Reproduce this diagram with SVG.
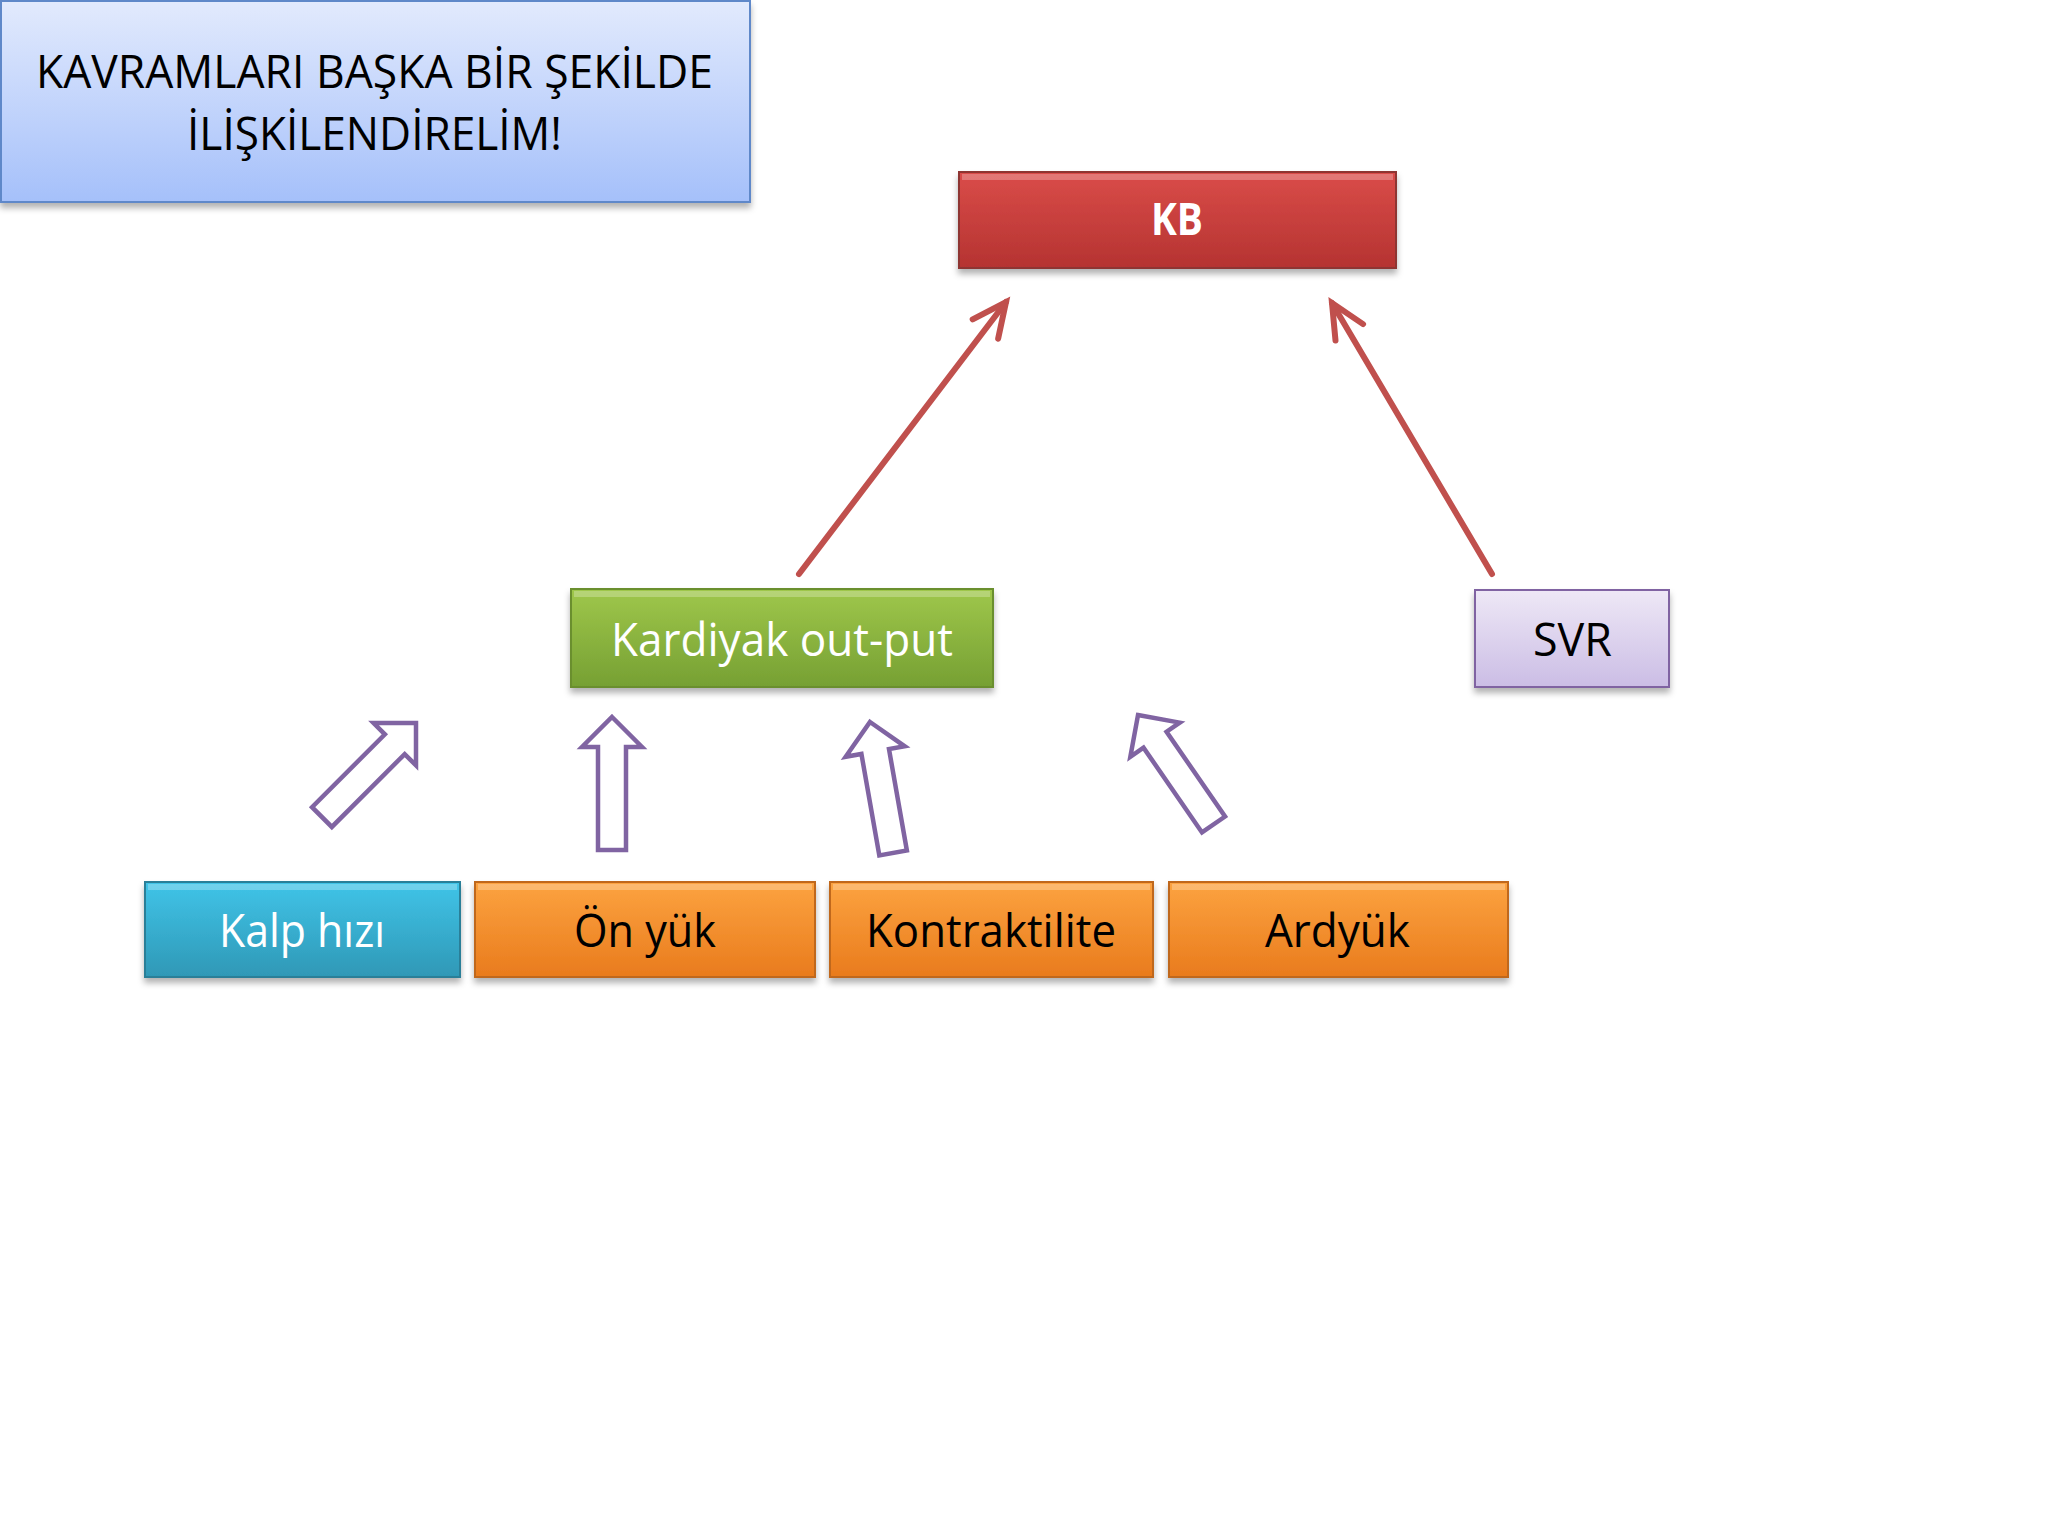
<svg xmlns="http://www.w3.org/2000/svg" width="2048" height="1536" viewBox="0 0 2048 1536">
<defs>
<linearGradient id="gTitle" x1="0" y1="0" x2="0" y2="1"><stop offset="0" stop-color="#e2eafd"/><stop offset="1" stop-color="#a5c0fa"/></linearGradient>
<linearGradient id="gRed" x1="0" y1="0" x2="0" y2="1"><stop offset="0" stop-color="#da4c49"/><stop offset="1" stop-color="#b53331"/></linearGradient>
<linearGradient id="gGreen" x1="0" y1="0" x2="0" y2="1"><stop offset="0" stop-color="#9fc74b"/><stop offset="1" stop-color="#76a033"/></linearGradient>
<linearGradient id="gLav" x1="0" y1="0" x2="0" y2="1"><stop offset="0" stop-color="#eee8f6"/><stop offset="1" stop-color="#cbbde5"/></linearGradient>
<linearGradient id="gCyan" x1="0" y1="0" x2="0" y2="1"><stop offset="0" stop-color="#40c4e8"/><stop offset="1" stop-color="#2f98b6"/></linearGradient>
<linearGradient id="gOrange" x1="0" y1="0" x2="0" y2="1"><stop offset="0" stop-color="#fca340"/><stop offset="1" stop-color="#e97b1d"/></linearGradient>
<filter id="shadow" x="-10%" y="-20%" width="120%" height="150%"><feDropShadow dx="0" dy="5" stdDeviation="3" flood-color="#000" flood-opacity="0.3"/></filter>
<marker id="redHead" viewBox="-45 -25 55 50" markerWidth="55" markerHeight="50" refX="0" refY="0" orient="auto" markerUnits="userSpaceOnUse" overflow="visible">
<path d="M-34,-16 L0,0 L-34,16" fill="none" stroke="#c0504d" stroke-width="6" stroke-linecap="round" stroke-linejoin="miter"/>
</marker>
<path id="blockArrow" d="M0,0 L30,30 L14,30 L14,133 L-14,133 L-14,30 L-30,30 Z"/>
</defs>
<style>
.box{stroke-width:2}
.hl{fill:#ffffff;opacity:0.25}
.t{font-family:"Open Sans","Noto Sans","Liberation Sans",sans-serif;font-size:45px}
.w{fill:#ffffff}
.k{fill:#000000}
.red{stroke:#c0504d;stroke-width:6;fill:none;stroke-linecap:round}
.open{fill:#ffffff;stroke:#8064a2;stroke-width:4.5;stroke-linejoin:miter}
</style>
<rect width="2048" height="1536" fill="#ffffff"/>

<g id="title">
<rect x="1" y="1" width="749" height="201" fill="url(#gTitle)" stroke="#5f88c9" stroke-width="2" filter="url(#shadow)"/>
<text class="t k" x="36" y="88" font-size="40" textLength="677" lengthAdjust="spacingAndGlyphs">KAVRAMLARI BAŞKA BİR ŞEKİLDE</text>
<text class="t k" x="187" y="150" font-size="40" textLength="375" lengthAdjust="spacingAndGlyphs">İLİŞKİLENDİRELİM!</text>
</g>

<g id="node-kb">
<rect class="box" x="959" y="172" width="437" height="96" fill="url(#gRed)" stroke="#8e3533" filter="url(#shadow)"/>
<rect class="hl" x="962" y="174" width="431" height="6"/>
<text class="t w" x="1151" y="235" font-weight="bold" textLength="52" lengthAdjust="spacingAndGlyphs">KB</text>
</g>

<g id="node-kardiyak">
<rect class="box" x="571" y="589" width="422" height="98" fill="url(#gGreen)" stroke="#6a8f2e" filter="url(#shadow)"/>
<rect class="hl" x="574" y="591" width="416" height="6"/>
<text class="t w" x="611" y="656" textLength="342" lengthAdjust="spacingAndGlyphs">Kardiyak out-put</text>
</g>

<g id="node-svr">
<rect class="box" x="1475" y="590" width="194" height="97" fill="url(#gLav)" stroke="#8064a2" filter="url(#shadow)"/>
<text class="t k" x="1533" y="656" textLength="79" lengthAdjust="spacingAndGlyphs">SVR</text>
</g>

<g id="node-kalp">
<rect class="box" x="145" y="882" width="315" height="95" fill="url(#gCyan)" stroke="#2a7f98" filter="url(#shadow)"/>
<rect class="hl" x="148" y="884" width="309" height="6"/>
<text class="t w" x="219" y="947" textLength="166" lengthAdjust="spacingAndGlyphs">Kalp hızı</text>
</g>

<g id="node-onyuk">
<rect class="box" x="475" y="882" width="340" height="95" fill="url(#gOrange)" stroke="#c0671a" filter="url(#shadow)"/>
<rect class="hl" x="478" y="884" width="334" height="6"/>
<text class="t k" x="574" y="947" textLength="142" lengthAdjust="spacingAndGlyphs">Ön yük</text>
</g>

<g id="node-kontraktilite">
<rect class="box" x="830" y="882" width="323" height="95" fill="url(#gOrange)" stroke="#c0671a" filter="url(#shadow)"/>
<rect class="hl" x="833" y="884" width="317" height="6"/>
<text class="t k" x="866" y="947" textLength="250" lengthAdjust="spacingAndGlyphs">Kontraktilite</text>
</g>

<g id="node-ardyuk">
<rect class="box" x="1169" y="882" width="339" height="95" fill="url(#gOrange)" stroke="#c0671a" filter="url(#shadow)"/>
<rect class="hl" x="1172" y="884" width="333" height="6"/>
<text class="t k" x="1265" y="947" textLength="145" lengthAdjust="spacingAndGlyphs">Ardyük</text>
</g>

<g id="connectors">
<line class="red" x1="799" y1="574" x2="1006" y2="302" marker-end="url(#redHead)"/>
<line class="red" x1="1492" y1="574" x2="1332" y2="303" marker-end="url(#redHead)"/>
<use href="#blockArrow" class="open" transform="translate(416,723) rotate(45)"/>
<use href="#blockArrow" class="open" transform="translate(612,717)"/>
<use href="#blockArrow" class="open" transform="translate(870,722) rotate(-10)"/>
<use href="#blockArrow" class="open" transform="translate(1138,715) rotate(-34.6)"/>
</g>
</svg>
